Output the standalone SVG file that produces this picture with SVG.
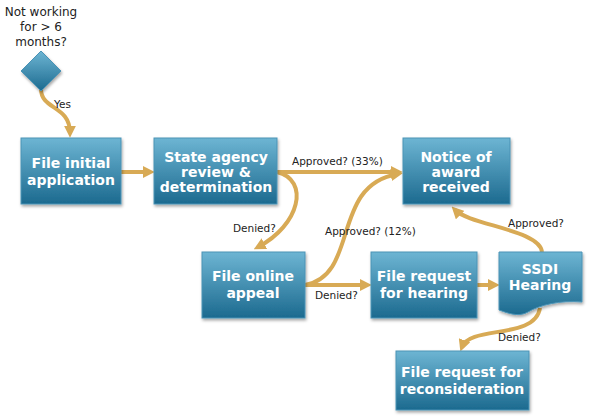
<svg xmlns="http://www.w3.org/2000/svg" width="600" height="416" viewBox="0 0 600 416">
<defs>
<linearGradient id="g" x1="0" y1="0" x2="0" y2="1"><stop offset="0" stop-color="#6db5d3"/><stop offset="1" stop-color="#1c6a8f"/></linearGradient>
<marker id="a" viewBox="0 0 10 10" refX="6" refY="5" markerWidth="3" markerHeight="3" orient="auto"><path d="M0,0 L10,5 L0,10 z" fill="#d8aa55"/></marker>
<filter id="s" x="-10%" y="-10%" width="130%" height="130%"><feDropShadow dx="1" dy="2" stdDeviation="1.5" flood-opacity="0.35"/></filter>
</defs>
<style>
.n{fill:url(#g);stroke:#4a93b6;stroke-width:1;filter:url(#s)}
.t{font-family:Verdana,"DejaVu Sans",sans-serif;font-weight:bold;font-size:14px;fill:#fff;text-anchor:middle}
.l{font-family:Verdana,"DejaVu Sans",sans-serif;font-size:10.5px;fill:#222}
.c{fill:none;stroke:#d8aa55;stroke-width:4;marker-end:url(#a)}
</style>
<rect width="600" height="416" fill="#fff"/>
<g id="connectors">
<path class="c" d="M41,89 C41,110 70,105 70,133"/>
<path class="c" d="M121,172 L150,172"/>
<path class="c" d="M277,172 L398,172"/>
<path class="c" d="M277,172 C310,180 300,225 258,247"/>
<path class="c" d="M305,285 C360,275 330,185 398,174"/>
<path class="c" d="M305,285 L367,285"/>
<path class="c" d="M477,285 L495,285"/>
<path class="c" d="M542,252 C540,230 470,225 455,210"/>
<path class="c" d="M540,308 C535,340 470,325 462,347"/>
<text class="l" x="54" y="108">Yes</text>
<text class="l" x="292" y="165">Approved? (33%)</text>
<text class="l" x="233" y="232">Denied?</text>
<text class="l" x="325" y="235">Approved? (12%)</text>
<text class="l" x="315" y="299">Denied?</text>
<text class="l" x="508" y="227">Approved?</text>
<text class="l" x="498" y="341">Denied?</text>
</g>
<g id="start">
<text class="l" style="font-size:12px" text-anchor="middle" x="41" y="16">Not working</text>
<text class="l" style="font-size:12px" text-anchor="middle" x="41" y="31">for &gt; 6</text>
<text class="l" style="font-size:12px" text-anchor="middle" x="41" y="46">months?</text>
<path class="n" d="M41,51 L61,71 L41,91 L21,71 z"/>
</g>
<g id="initial"><rect class="n" x="21" y="138" width="100" height="66"/><text class="t" x="71" y="168">File initial</text><text class="t" x="71" y="185">application</text></g>
<g id="state"><rect class="n" x="154" y="138" width="123" height="66"/><text class="t" x="216" y="162">State agency</text><text class="t" x="216" y="177">review &amp;</text><text class="t" x="216" y="192">determination</text></g>
<g id="notice"><rect class="n" x="403" y="138" width="107" height="66"/><text class="t" x="456" y="162">Notice of</text><text class="t" x="456" y="177">award</text><text class="t" x="456" y="192">received</text></g>
<g id="appeal"><rect class="n" x="202" y="252" width="103" height="66"/><text class="t" x="253" y="281">File online</text><text class="t" x="253" y="298">appeal</text></g>
<g id="hearingreq"><rect class="n" x="371" y="252" width="106" height="66"/><text class="t" x="424" y="281">File request</text><text class="t" x="424" y="298">for hearing</text></g>
<g id="ssdi"><path class="n" d="M499,252 L582,252 L582,302 C560,300 540,305 528,312 C518,318 505,312 499,310 z"/><text class="t" x="540" y="274">SSDI</text><text class="t" x="540" y="290">Hearing</text></g>
<g id="recon"><rect class="n" x="396" y="351" width="133" height="59"/><text class="t" x="462" y="377">File request for</text><text class="t" x="462" y="394">reconsideration</text></g>
</svg>
